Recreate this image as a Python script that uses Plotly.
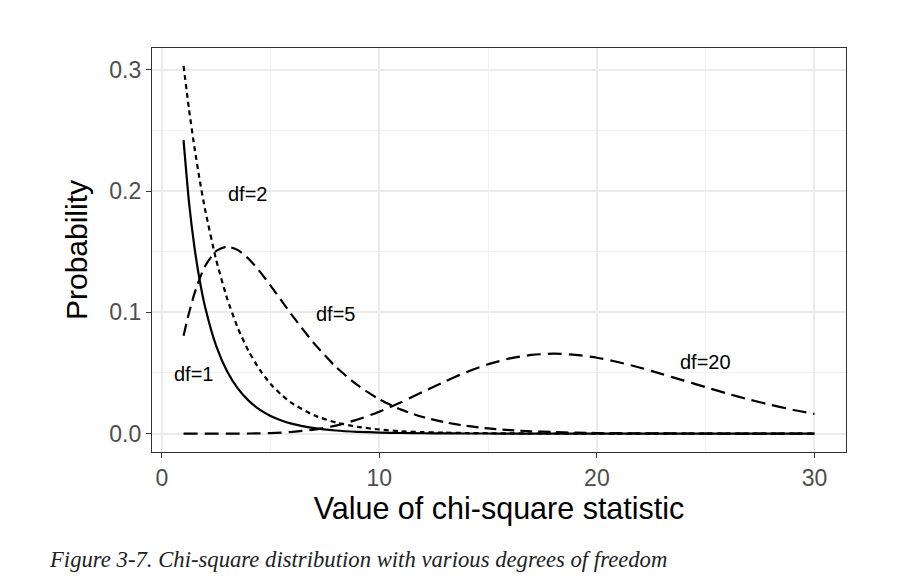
import plotly.graph_objects as go

# x values (chi-square statistic): finer near the start where the curves bend sharply
x_low = [1, 1.25, 1.5, 1.75, 2, 2.5, 3, 3.5, 4, 4.5, 5, 5.5, 6, 7, 8, 9, 10,
         11, 12, 13, 14, 15, 16, 17, 18, 19, 20, 21, 22, 23, 24, 25, 26, 27, 28, 29, 30]
x_int = list(range(1, 31))

# Densities
df1 = [0.2420, 0.1910, 0.1539, 0.1257, 0.1038, 0.0723, 0.0514, 0.0371, 0.0270, 0.0198,
       0.0146, 0.0109, 0.0081, 0.0046, 0.0026, 0.0015, 0.0009,
       0.0005, 0.0003, 0.0002, 0.0001, 0.0001, 0.0000, 0.0000, 0.0000, 0.0000, 0.0000,
       0.0000, 0.0000, 0.0000, 0.0000, 0.0000, 0.0000, 0.0000, 0.0000, 0.0000, 0.0000]
df2 = [0.3033, 0.2676, 0.2362, 0.2084, 0.1839, 0.1433, 0.1116, 0.0869, 0.0677, 0.0527,
       0.0410, 0.0320, 0.0249, 0.0151, 0.0092, 0.0056, 0.0034,
       0.0020, 0.0012, 0.0008, 0.0005, 0.0003, 0.0002, 0.0001, 0.0001, 0.0000, 0.0000,
       0.0000, 0.0000, 0.0000, 0.0000, 0.0000, 0.0000, 0.0000, 0.0000, 0.0000, 0.0000]
df5 = [0.0807, 0.0995, 0.1154, 0.1283, 0.1384, 0.1506, 0.1542, 0.1513, 0.1440, 0.1338,
       0.1220, 0.1097, 0.0973, 0.0744, 0.0551, 0.0399, 0.0283,
       0.0198, 0.0137, 0.0094, 0.0064, 0.0043, 0.0029, 0.0019, 0.0013, 0.0008, 0.0005,
       0.0004, 0.0002, 0.0002, 0.0001, 0.0001, 0.0000, 0.0000, 0.0000, 0.0000, 0.0000]
df20 = [0.0000, 0.0000, 0.0000, 0.0001, 0.0004, 0.0014, 0.0033, 0.0066, 0.0116, 0.0181,
        0.0259, 0.0344, 0.0429, 0.0507, 0.0572, 0.0620, 0.0649, 0.0659, 0.0650, 0.0626,
        0.0589, 0.0543, 0.0491, 0.0437, 0.0383, 0.0330, 0.0281, 0.0237, 0.0197, 0.0162]

series_names = ["df=1", "df=2", "df=5", "df=20"]
series_x = [x_low, x_low, x_low, x_int]
series_values = [df1, df2, df5, df20]

# label positions (data coordinates)
label_x = [1.45, 3.95, 8.0, 25.0]
label_y = [0.049, 0.198, 0.099, 0.059]

x_ticks = [0, 10, 20, 30]
y_ticks = [0.0, 0.1, 0.2, 0.3]
y_tick_text = ["0.0", "0.1", "0.2", "0.3"]

dashes = ["solid", "5px,4px", "12px,6px", "14px,7px"]

fig = go.Figure()
for name, xs, vals, dash in zip(series_names, series_x, series_values, dashes):
    fig.add_trace(go.Scatter(
        x=xs, y=vals, mode="lines", name=name,
        line=dict(color="black", width=2.2, dash=dash, shape="spline", smoothing=0.6),
        showlegend=False,
    ))

for name, lx, ly in zip(series_names, label_x, label_y):
    fig.add_annotation(x=lx, y=ly, text=name, showarrow=False,
                       font=dict(family="Liberation Sans, Arial", size=20, color="black"),
                       xanchor="center", yanchor="middle")

fig.add_annotation(
    xref="paper", yref="paper", x=-0.152, y=-0.267,
    text="<i>Figure 3-7. Chi-square distribution with various degrees of freedom</i>",
    showarrow=False, xanchor="left", yanchor="middle",
    font=dict(family="Liberation Serif, Times New Roman, serif", size=22.7, color="#222222"),
)

axis_common = dict(
    showline=True, mirror=True, linecolor="#333333", linewidth=1.2,
    ticks="outside", ticklen=5, tickwidth=1.2, tickcolor="#333333",
    showgrid=True, gridcolor="#EBEBEB", gridwidth=1.6,
    zeroline=False,
    tickfont=dict(family="Liberation Sans, Arial", size=23, color="#4D4D4D"),
)

fig.update_xaxes(
    range=[-0.45, 31.45], tickvals=x_ticks,
    minor=dict(tickvals=[5, 15, 25], showgrid=True, gridcolor="#F2F2F2", gridwidth=1, ticks=""),
    title=dict(text="Value of chi-square statistic", standoff=4,
               font=dict(family="Liberation Sans, Arial", size=30.5, color="black")),
    **axis_common,
)
fig.update_yaxes(
    range=[-0.01515, 0.318], tickvals=y_ticks, ticktext=y_tick_text,
    minor=dict(tickvals=[0.05, 0.15, 0.25], showgrid=True, gridcolor="#F2F2F2", gridwidth=1, ticks=""),
    title=dict(text="Probability", standoff=12,
               font=dict(family="Liberation Sans, Arial", size=30, color="black")),
    **axis_common,
)

fig.update_layout(
    width=916, height=578,
    margin=dict(l=152, r=70, t=48, b=126),
    plot_bgcolor="white", paper_bgcolor="white",
)

fig.write_html("out.html")
